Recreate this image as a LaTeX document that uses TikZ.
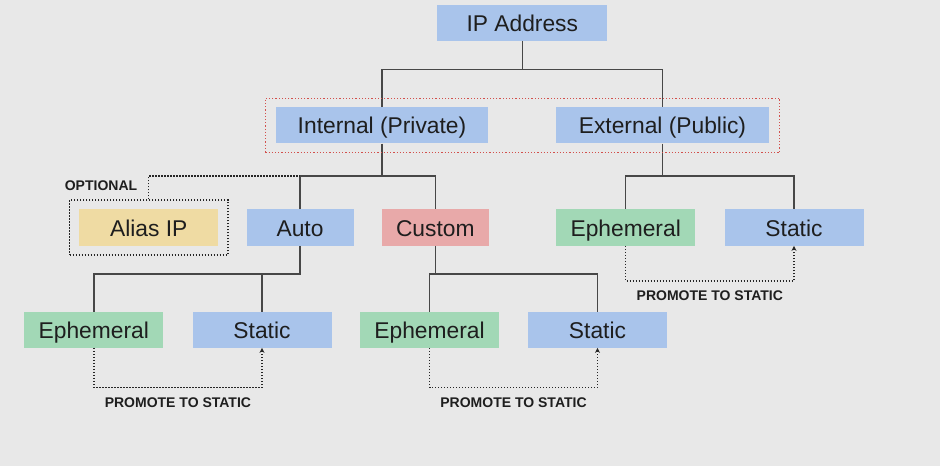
\documentclass[tikz,border=0pt]{standalone}
\usepackage{fontspec}
\setmainfont{Liberation Sans}
\usetikzlibrary{fit,arrows.meta}
\definecolor{bg}{HTML}{E8E8E8}
\definecolor{boxblue}{HTML}{A9C4EB}
\definecolor{boxgreen}{HTML}{A2D8B6}
\definecolor{boxred}{HTML}{E8A9A9}
\definecolor{boxyellow}{HTML}{EFDBA3}
\definecolor{linegray}{HTML}{474747}
\definecolor{txt}{HTML}{1E1E1E}
\definecolor{reddot}{HTML}{D2504C}
\tikzset{
  box/.style={rectangle, inner sep=0pt, minimum height=36pt, text=txt,
    text height=17.2pt, text depth=0pt,
    font=\fontsize{22.8}{26}\selectfont},
  bluebox/.style={box, fill=boxblue},
  greenbox/.style={box, fill=boxgreen},
  redbox/.style={box, fill=boxred},
  yellowbox/.style={box, fill=boxyellow},
  tree/.style={draw=linegray, line width=1.5pt},
  dotline/.style={draw=black!85, line width=1.4pt, dash pattern=on 1.4pt off 1.6pt},
  promote/.style={dotline, -{Stealth[length=5pt,width=5pt]}},
  smalllabel/.style={text=txt, font=\fontsize{14}{16}\selectfont\bfseries, inner sep=0pt},
}
\begin{document}
\begin{tikzpicture}[x=1pt,y=-1pt]
\fill[bg] (0,0) rectangle (940,466);
\useasboundingbox (0,0) rectangle (940,466);

% nodes
\node[bluebox, minimum width=170pt] (ip) at (522.3,22.7) {IP Address};
\node[bluebox, minimum width=212pt] (internal) at (382,125.3) {Internal (Private)};
\node[bluebox, minimum width=213pt] (external) at (662.5,125.3) {External (Public)};
\node[yellowbox, minimum width=139pt, minimum height=36.5pt] (alias) at (148.7,227.5) {Alias IP};
\node[bluebox, minimum width=107pt, minimum height=36.5pt] (auto) at (300,227.5) {Auto};
\node[redbox, minimum width=107pt, minimum height=36.5pt] (custom) at (435.3,227.5) {Custom};
\node[greenbox, minimum width=139pt, minimum height=36.5pt] (ephR) at (625.7,227.5) {Ephemeral};
\node[bluebox, minimum width=139pt, minimum height=36.5pt] (staticR) at (794,227.5) {Static};
\node[greenbox, minimum width=139pt] (ephL) at (93.8,329.7) {Ephemeral};
\node[bluebox, minimum width=139pt] (staticL) at (262,329.7) {Static};
\node[greenbox, minimum width=139pt] (ephM) at (429.5,329.7) {Ephemeral};
\node[bluebox, minimum width=139pt] (staticM) at (597.5,329.7) {Static};

% level coordinates
\coordinate (y1) at (0,69.5);
\coordinate (y2) at (0,176);
\coordinate (y3) at (0,274);

% tree connectors
\draw[tree] (ip.south) -- (ip.south |- y1);
\draw[tree] (internal.north) -- (internal.north |- y1) -- (external.north |- y1) -- (external.north);

\draw[tree] (internal.south) -- (internal.south |- y2);
\draw[tree] (auto.north) -- (auto.north |- y2) -- (custom.north |- y2) -- (custom.north);

\draw[tree] (external.south) -- (external.south |- y2);
\draw[tree] (ephR.north) -- (ephR.north |- y2) -- (staticR.north |- y2) -- (staticR.north);

\draw[tree] (auto.south) -- (auto.south |- y3) -- (ephL.north |- y3) -- (ephL.north);
\draw[tree] (staticL.north) -- (staticL.north |- y3);

\draw[tree] (custom.south) -- (custom.south |- y3);
\draw[tree] (ephM.north) -- (ephM.north |- y3) -- (staticM.north |- y3) -- (staticM.north);

% red dotted group
\node[draw=reddot, line width=1.2pt, dash pattern=on 1.2pt off 2pt, inner ysep=9pt, inner xsep=10.5pt,
      fit=(internal)(external)] (pubpriv) {};

% optional alias
\node[dotline, inner xsep=9.5pt, inner ysep=9pt, fit=(alias)] (aliasbox) {};
\node[smalllabel] (optional) at (101,185.7) {OPTIONAL};
\draw[dotline] (aliasbox.north) -- (aliasbox.north |- y2) -- (auto.north |- y2);

% promote to static
\draw[promote] (ephR.south) -- ++(0,35) -| node[pos=0.25, yshift=-14.5pt, smalllabel] (promR) {PROMOTE TO STATIC} (staticR.south);
\draw[promote] (ephL.south) -- ++(0,39.5) -| node[pos=0.25, yshift=-15pt, smalllabel] (promL) {PROMOTE TO STATIC} (staticL.south);
\draw[promote] (ephM.south) -- ++(0,39.5) -| node[pos=0.25, yshift=-15pt, smalllabel] (promM) {PROMOTE TO STATIC} (staticM.south);
\end{tikzpicture}
\end{document}
